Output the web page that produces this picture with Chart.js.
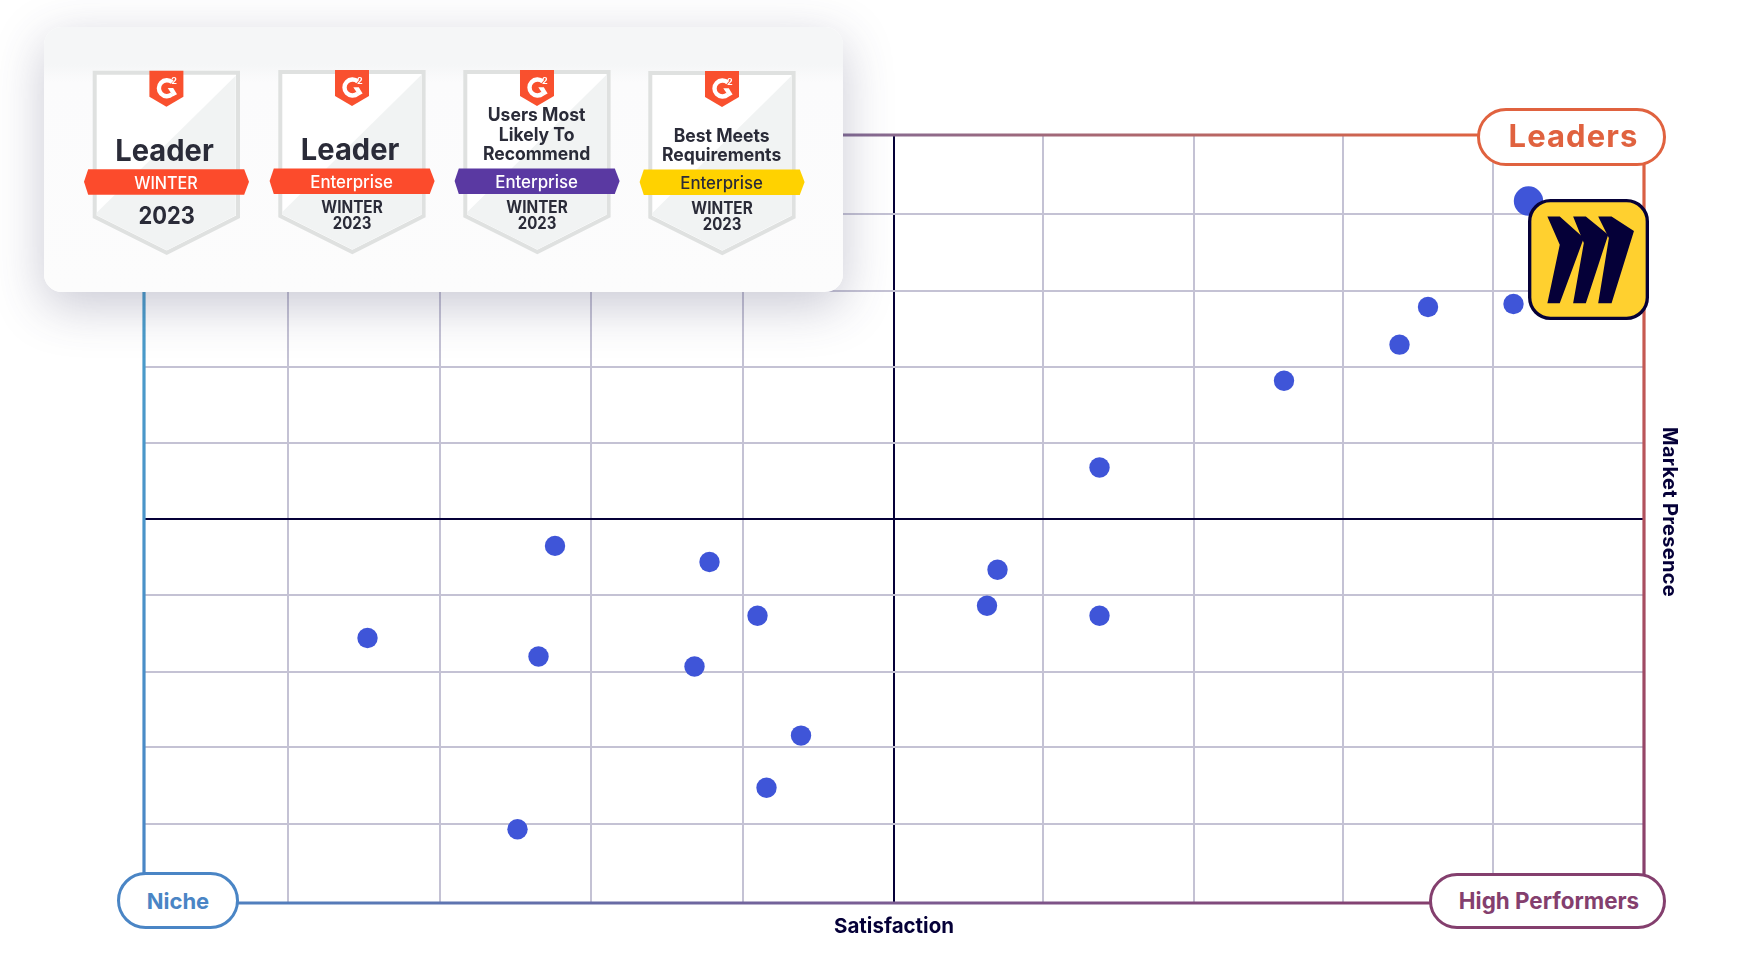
<!DOCTYPE html>
<html>
<head>
<meta charset="utf-8">
<title>G2 grid</title>
<script src="https://cdn.jsdelivr.net/npm/chart.js@4"></script>
<style>
    html, body { margin: 0; padding: 0; background: #fff; }
    body { width: 1740px; height: 963px; overflow: hidden; position: relative; font-family: Inter, sans-serif; }
    #chart { position: absolute; left: 0; top: 0; }
    .pill { position: absolute; box-sizing: border-box; background: #fff; border: 3.5px solid; border-radius: 30px;
        display: flex; align-items: center; justify-content: center; font-weight: 700; }
    #leaders { left: 1477px; top: 108px; width: 189px; height: 58px; color: #e0623f; border-color: #e0623f; font-size: 31px; letter-spacing: 1.1px; padding-left: 4px; padding-bottom: 3px; }
    #niche { left: 117px; top: 872px; width: 122px; height: 57px; color: #4a85c5; border-color: #4a85c5; font-size: 22px; }
    #performers { left: 1429px; top: 873px; width: 237px; height: 56px; color: #843f6e; border-color: #843f6e; font-size: 22.4px; padding-left: 3px; padding-bottom: 2px; }
    #panel { position: absolute; left: 44px; top: 27px; width: 799px; height: 265px; border-radius: 18px;
        background: linear-gradient(#f5f6f7 0, #f5f6f7 14%, #fbfbfc 21%, #fcfcfc 100%);
        box-shadow: 0 14px 50px rgba(60, 60, 100, .28); }
    #badges { position: absolute; left: 0; top: 0; }
    #badges text { font-family: Inter, sans-serif; text-anchor: middle; fill: #2a2b38; }
    #logo { position: absolute; left: 1528px; top: 199px; }
</style>
</head>
<body>
<canvas id="chart" width="1740" height="963"></canvas>
<div id="panel"></div>
<svg id="badges" width="1740" height="300"></svg>
<div class="pill" id="leaders">Leaders</div>
<div class="pill" id="niche">Niche</div>
<div class="pill" id="performers">High Performers</div>
<svg id="logo" width="121" height="121" viewBox="685 328 362 362">
    <rect x="690" y="333" width="352" height="352" rx="62" fill="#ffd02f" stroke="#050038" stroke-width="10"/>
    <polygon fill="#050038" points="743,380 780,380 852,445 780,640 743,640 780,465"/>
    <polygon fill="#050038" points="820,380 858,380 925,435 858,640 820,640 852,460"/>
    <polygon fill="#050038" points="895,380 935,380 1002,424 935,640 895,640 927,445"/>
</svg>
<script>
// values on a 0-100 scale
var vendorX = [85.6, 91.3, 83.7, 76.0, 63.7, 27.4, 37.7, 56.9, 56.2, 63.7, 40.9, 14.9, 26.3, 36.7, 43.8, 41.5, 24.9];
var vendorY = [77.6, 78.0, 72.7, 68.0, 56.7, 46.5, 44.4, 43.4, 38.7, 37.4, 37.4, 34.5, 32.1, 30.8, 21.8, 15.0, 9.6];
var miroX = [92.3];
var miroY = [91.4];

// the grid is not quite even in the original
var xGridValues = [9.63, 19.73, 29.83, 39.93, 50, 59.93, 69.97, 79.91, 89.93];
var yGridValues = [10.35, 20.25, 30.14, 40.1, 50, 59.9, 69.75, 79.7, 89.65];

var xTitle = 'Satisfaction';
var yTitle = 'Market Presence';

// badges: title lines, ribbon text, season lines
var badgeTitles = [['Leader'], ['Leader'], ['Users Most', 'Likely To', 'Recommend'], ['Best Meets', 'Requirements']];
var badgeRibbons = ['WINTER', 'Enterprise', 'Enterprise', 'Enterprise'];
var badgeSeasons = [['2023'], ['WINTER', '2023'], ['WINTER', '2023'], ['WINTER', '2023']];
var ribbonColors = ['#fc4b2c', '#fc4b2c', '#5a39a2', '#ffd200'];
var ribbonTextColors = ['#fff', '#fff', '#fff', '#2a2b38'];
var badgeLeft = [92.7, 278.3, 463.3, 648.3];
var badgeTop = [70.7, 70, 70, 71];

// squeeze is there because the badge font is narrower than Inter
function textTag(str, x, y, size, weight, squeeze, color) {
    var fill = color ? ' style="fill:' + color + '"' : '';
    return '<text transform="translate(' + x + ',' + y + ') scale(' + squeeze + ',1)" font-size="' + size + '" font-weight="' + weight + '"' + fill + '>' + str + '</text>';
}

function buildBadges() {
    var html = '';
    for (var i = 0; i < badgeTitles.length; i++) {
        var g = '<g transform="translate(' + badgeLeft[i] + ',' + badgeTop[i] + ')">';
        g += '<path d="M2,2 H145.3 V146 L74,182 L2,146 Z" fill="#fff" stroke="#dfe1e0" stroke-width="4"/>';
        g += '<path d="M143,5 V144.5 L74,179.5 L4,144.5 V142 Z" fill="#f1f3f3"/>';
        // G2 tab
        g += '<path d="M56.7,0 H90.7 V26 L73.7,36 L56.7,26 Z" fill="#f9502e"/>';
        g += '<path d="M79.5,11.5 A8,8 0 1 0 79.5,23.5" fill="none" stroke="#fff" stroke-width="4.4"/>';
        g += '<polygon points="75,17.3 80.5,17.3 84.3,23.5 80.5,25.5" fill="#fff"/>';
        g += textTag('2', 81.5, 13.5, 9, 700, 1, '#fff');

        var titles = badgeTitles[i];
        if (titles.length === 1) {
            g += textTag(titles[0], 71.8, 90, 30, 700, 0.97);
        } else {
            for (var t = 0; t < titles.length; t++) {
                g += textTag(titles[t], 73.3, 90.3 - (titles.length - 1 - t) * 19.6, 18.5, 700, 0.95);
            }
        }

        g += '<polygon points="-8.7,111 -4.5,98.5 151.5,98.5 156.3,111 151.5,124 -4.5,124" fill="' + ribbonColors[i] + '"/>';
        g += textTag(badgeRibbons[i], 73.3, 117.8, 17, 500, badgeRibbons[i] === 'WINTER' ? 0.95 : 0.99, ribbonTextColors[i]);

        var seasons = badgeSeasons[i];
        if (seasons.length === 1) {
            g += textTag(seasons[0], 74, 153, 24, 700, 0.91);
        } else {
            g += textTag(seasons[0], 73.7, 142.7, 17, 700, 0.9);
            g += textTag(seasons[1], 73.7, 159.3, 17, 700, 0.88);
        }
        html += g + '</g>';
    }
    document.getElementById('badges').innerHTML = html;
}

function toPoints(xs, ys) {
    return xs.map(function (x, i) { return { x: x, y: ys[i] }; });
}

function strokeLine(ctx, x1, y1, x2, y2, stops) {
    var grad = ctx.createLinearGradient(x1, y1, x2, y2);
    stops.forEach(function (s) { grad.addColorStop(s[0], s[1]); });
    ctx.strokeStyle = grad;
    ctx.beginPath();
    ctx.moveTo(x1, y1);
    ctx.lineTo(x2, y2);
    ctx.stroke();
}

// gradient frame around the plot, and the y title which sits a bit above centre
var framePlugin = {
    id: 'frame',
    beforeDatasetsDraw: function (chart) {
        var a = chart.chartArea;
        var ctx = chart.ctx;
        ctx.save();
        ctx.lineWidth = 3.2;
        ctx.lineCap = 'square';
        strokeLine(ctx, a.left, a.top, a.left, a.bottom, [[0, '#4aa3cc'], [1, '#4a85c5']]);
        strokeLine(ctx, a.left, a.bottom, a.right, a.bottom, [[0, '#4a85c5'], [0.5, '#7b5c92'], [0.85, '#843f6e'], [1, '#843f6e']]);
        strokeLine(ctx, a.right, a.top, a.right, a.bottom, [[0, '#e0623f'], [0.4, '#b9555a'], [1, '#843f6e']]);
        strokeLine(ctx, a.left, a.top, a.right, a.top, [[0, '#4a85c5'], [0.47, '#846b94'], [0.9, '#e0623f'], [1, '#e0623f']]);

        ctx.translate(a.right + 24.6, (a.top + a.bottom) / 2 - 7);
        ctx.rotate(Math.PI / 2);
        ctx.fillStyle = '#050038';
        ctx.font = '700 20px Inter';
        ctx.letterSpacing = '0.3px';
        ctx.textAlign = 'center';
        ctx.textBaseline = 'middle';
        ctx.fillText(yTitle, 0, 0);
        ctx.restore();
    }
};

function gridColor(c) { return c.tick && c.tick.value === 50 ? '#050038' : '#c4c2d4'; }

document.addEventListener('DOMContentLoaded', function () {
    buildBadges();

    var ctx = document.getElementById('chart').getContext('2d');
    new Chart(ctx, {
        type: 'scatter',
        data: {
            datasets: [
                {
                    label: 'Vendors',
                    data: toPoints(vendorX, vendorY),
                    backgroundColor: '#3f55d8',
                    borderWidth: 0,
                    pointRadius: 10.2
                },
                {
                    label: 'Miro',
                    data: toPoints(miroX, miroY),
                    backgroundColor: '#3f55d8',
                    borderWidth: 0,
                    pointRadius: 14.7
                }
            ]
        },
        options: {
            responsive: false,
            animation: false,
            layout: { padding: { left: 144, top: 135, right: 96, bottom: 23.4 } },
            plugins: { legend: { display: false }, tooltip: { enabled: false } },
            scales: {
                x: {
                    type: 'linear',
                    min: 0,
                    max: 100,
                    afterBuildTicks: function (scale) {
                        scale.ticks = xGridValues.map(function (v) { return { value: v }; });
                    },
                    ticks: { display: false },
                    border: { display: false },
                    grid: { color: gridColor, lineWidth: 2, drawTicks: false },
                    title: {
                        display: true,
                        text: xTitle,
                        color: '#050038',
                        font: { family: 'Inter', size: 20.5, weight: '700' },
                        padding: { top: 12, bottom: 0 }
                    }
                },
                y: {
                    type: 'linear',
                    position: 'right',
                    min: 0,
                    max: 100,
                    afterBuildTicks: function (scale) {
                        scale.ticks = yGridValues.map(function (v) { return { value: v }; });
                    },
                    ticks: { display: false },
                    border: { display: false },
                    grid: { color: gridColor, lineWidth: 2, drawTicks: false }
                }
            }
        },
        plugins: [framePlugin]
    });
});
</script>
</body>
</html>
